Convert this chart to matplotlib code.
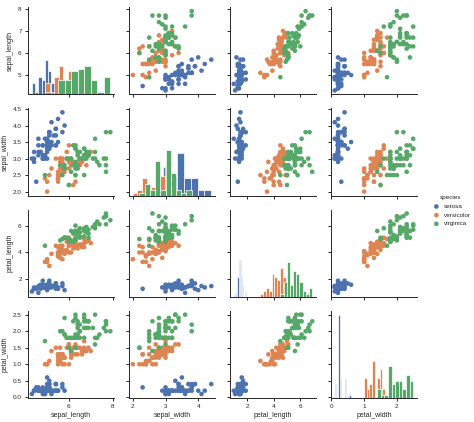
import matplotlib
matplotlib.use("Agg")
import matplotlib.pyplot as plt
from matplotlib.ticker import MultipleLocator
import numpy as np

# iris measurements (50 setosa, 50 versicolor, 50 virginica)
sepal_length = [
    5.1, 4.9, 4.7, 4.6, 5.0, 5.4, 4.6, 5.0, 4.4, 4.9, 5.4, 4.8, 4.8, 4.3, 5.8, 5.7, 5.4, 5.1, 5.7, 5.1, 5.4, 5.1, 4.6, 5.1, 4.8,
    5.0, 5.0, 5.2, 5.2, 4.7, 4.8, 5.4, 5.2, 5.5, 4.9, 5.0, 5.5, 4.9, 4.4, 5.1, 5.0, 4.5, 4.4, 5.0, 5.1, 4.8, 5.1, 4.6, 5.3, 5.0,
    7.0, 6.4, 6.9, 5.5, 6.5, 5.7, 6.3, 4.9, 6.6, 5.2, 5.0, 5.9, 6.0, 6.1, 5.6, 6.7, 5.6, 5.8, 6.2, 5.6, 5.9, 6.1, 6.3, 6.1, 6.4,
    6.6, 6.8, 6.7, 6.0, 5.7, 5.5, 5.5, 5.8, 6.0, 5.4, 6.0, 6.7, 6.3, 5.6, 5.5, 5.5, 6.1, 5.8, 5.0, 5.6, 5.7, 5.7, 6.2, 5.1, 5.7,
    6.3, 5.8, 7.1, 6.3, 6.5, 7.6, 4.9, 7.3, 6.7, 7.2, 6.5, 6.4, 6.8, 5.7, 5.8, 6.4, 6.5, 7.7, 7.7, 6.0, 6.9, 5.6, 7.7, 6.3, 6.7,
    7.2, 6.2, 6.1, 6.4, 7.2, 7.4, 7.9, 6.4, 6.3, 6.1, 7.7, 6.3, 6.4, 6.0, 6.9, 6.7, 6.9, 5.8, 6.8, 6.7, 6.7, 6.3, 6.5, 6.2, 5.9,
]
sepal_width = [
    3.5, 3.0, 3.2, 3.1, 3.6, 3.9, 3.4, 3.4, 2.9, 3.1, 3.7, 3.4, 3.0, 3.0, 4.0, 4.4, 3.9, 3.5, 3.8, 3.8, 3.4, 3.7, 3.6, 3.3, 3.4,
    3.0, 3.4, 3.5, 3.4, 3.2, 3.1, 3.4, 4.1, 4.2, 3.1, 3.2, 3.5, 3.6, 3.0, 3.4, 3.5, 2.3, 3.2, 3.5, 3.8, 3.0, 3.8, 3.2, 3.7, 3.3,
    3.2, 3.2, 3.1, 2.3, 2.8, 2.8, 3.3, 2.4, 2.9, 2.7, 2.0, 3.0, 2.2, 2.9, 2.9, 3.1, 3.0, 2.7, 2.2, 2.5, 3.2, 2.8, 2.5, 2.8, 2.9,
    3.0, 2.8, 3.0, 2.9, 2.6, 2.4, 2.4, 2.7, 2.7, 3.0, 3.4, 3.1, 2.3, 3.0, 2.5, 2.6, 3.0, 2.6, 2.3, 2.7, 3.0, 2.9, 2.9, 2.5, 2.8,
    3.3, 2.7, 3.0, 2.9, 3.0, 3.0, 2.5, 2.9, 2.5, 3.6, 3.2, 2.7, 3.0, 2.5, 2.8, 3.2, 3.0, 3.8, 2.6, 2.2, 3.2, 2.8, 2.8, 2.7, 3.3,
    3.2, 2.8, 3.0, 2.8, 3.0, 2.8, 3.8, 2.8, 2.8, 2.6, 3.0, 3.4, 3.1, 3.0, 3.1, 3.1, 3.1, 2.7, 3.2, 3.3, 3.0, 2.5, 3.0, 3.4, 3.0,
]
petal_length = [
    1.4, 1.4, 1.3, 1.5, 1.4, 1.7, 1.4, 1.5, 1.4, 1.5, 1.5, 1.6, 1.4, 1.1, 1.2, 1.5, 1.3, 1.4, 1.7, 1.5, 1.7, 1.5, 1.0, 1.7, 1.9,
    1.6, 1.6, 1.5, 1.4, 1.6, 1.6, 1.5, 1.5, 1.4, 1.5, 1.2, 1.3, 1.4, 1.3, 1.5, 1.3, 1.3, 1.3, 1.6, 1.9, 1.4, 1.6, 1.4, 1.5, 1.4,
    4.7, 4.5, 4.9, 4.0, 4.6, 4.5, 4.7, 3.3, 4.6, 3.9, 3.5, 4.2, 4.0, 4.7, 3.6, 4.4, 4.5, 4.1, 4.5, 3.9, 4.8, 4.0, 4.9, 4.7, 4.3,
    4.4, 4.8, 5.0, 4.5, 3.5, 3.8, 3.7, 3.9, 5.1, 4.5, 4.5, 4.7, 4.4, 4.1, 4.0, 4.4, 4.6, 4.0, 3.3, 4.2, 4.2, 4.2, 4.3, 3.0, 4.1,
    6.0, 5.1, 5.9, 5.6, 5.8, 6.6, 4.5, 6.3, 5.8, 6.1, 5.1, 5.3, 5.5, 5.0, 5.1, 5.3, 5.5, 6.7, 6.9, 5.0, 5.7, 4.9, 6.7, 4.9, 5.7,
    6.0, 4.8, 4.9, 5.6, 5.8, 6.1, 6.4, 5.6, 5.1, 5.6, 6.1, 5.6, 5.5, 4.8, 5.4, 5.6, 5.1, 5.1, 5.9, 5.7, 5.2, 5.0, 5.2, 5.4, 5.1,
]
petal_width = [
    0.2, 0.2, 0.2, 0.2, 0.2, 0.4, 0.3, 0.2, 0.2, 0.1, 0.2, 0.2, 0.1, 0.1, 0.2, 0.4, 0.4, 0.3, 0.3, 0.3, 0.2, 0.4, 0.2, 0.5, 0.2,
    0.2, 0.4, 0.2, 0.2, 0.2, 0.2, 0.4, 0.1, 0.2, 0.2, 0.2, 0.2, 0.1, 0.2, 0.2, 0.3, 0.3, 0.2, 0.6, 0.4, 0.3, 0.2, 0.2, 0.2, 0.2,
    1.4, 1.5, 1.5, 1.3, 1.5, 1.3, 1.6, 1.0, 1.3, 1.4, 1.0, 1.5, 1.0, 1.4, 1.3, 1.4, 1.5, 1.0, 1.5, 1.1, 1.8, 1.3, 1.5, 1.2, 1.3,
    1.4, 1.4, 1.7, 1.5, 1.0, 1.1, 1.0, 1.2, 1.6, 1.5, 1.6, 1.5, 1.3, 1.3, 1.3, 1.2, 1.4, 1.2, 1.0, 1.3, 1.2, 1.3, 1.3, 1.1, 1.3,
    2.5, 1.9, 2.1, 1.8, 2.2, 2.1, 1.7, 1.8, 1.8, 2.5, 2.0, 1.9, 2.1, 2.0, 2.4, 2.3, 1.8, 2.2, 2.3, 1.5, 2.3, 2.0, 2.0, 1.8, 2.1,
    1.8, 1.8, 1.8, 2.1, 1.6, 1.9, 2.0, 2.2, 1.5, 1.4, 2.3, 2.4, 1.8, 1.8, 2.1, 2.4, 2.3, 1.9, 2.3, 2.5, 2.3, 1.9, 2.0, 2.3, 1.8,
]
species = ["setosa"] * 50 + ["versicolor"] * 50 + ["virginica"] * 50

species_names = ["setosa", "versicolor", "virginica"]
colors = ["#4C72B0", "#DD8452", "#55A868"]
var_names = ["sepal_length", "sepal_width", "petal_length", "petal_width"]

data = {
    "sepal_length": np.array(sepal_length),
    "sepal_width": np.array(sepal_width),
    "petal_length": np.array(petal_length),
    "petal_width": np.array(petal_width),
}
species_arr = np.array(species)

# tick spacing per variable (x, y)
tick_step = {
    "sepal_length": (2, 1),
    "sepal_width": (1, 0.5),
    "petal_length": (2, 2),
    "petal_width": (1, 0.5),
}

plt.rcParams["font.family"] = ["Liberation Sans", "DejaVu Sans"]
text_color = "#262626"

fig, axes = plt.subplots(4, 4, figsize=(4.74, 4.22), dpi=100, sharex="col", sharey="row")
fig.subplots_adjust(left=0.059, right=0.880, bottom=0.057, top=0.983, wspace=0.17, hspace=0.16)

# diagonal: one histogram per species on a hidden twin axis, all twins share y
diag_axes = []
for i, yvar in enumerate(var_names):
    for j, xvar in enumerate(var_names):
        ax = axes[i, j]
        if i == j:
            dax = ax.twinx()
            if diag_axes:
                dax.sharey(diag_axes[0])
            dax.set_axis_off()
            diag_axes.append(dax)
            for name, c in zip(species_names, colors):
                vals = data[xvar][species_arr == name]
                dax.hist(vals, bins=10, color=c, edgecolor="white", linewidth=0.5)
        else:
            for name, c in zip(species_names, colors):
                m = species_arr == name
                ax.scatter(data[xvar][m], data[yvar][m], s=11, color=c, edgecolors="none", label=name)

        for side in ["top", "right"]:
            ax.spines[side].set_visible(False)
        for side in ["left", "bottom"]:
            ax.spines[side].set_linewidth(0.7)
            ax.spines[side].set_color(text_color)
        ax.tick_params(direction="out", length=2.5, width=0.7, labelsize=4.6,
                       colors=text_color, pad=2)
        ax.xaxis.set_major_locator(MultipleLocator(tick_step[xvar][0]))
        ax.yaxis.set_major_locator(MultipleLocator(tick_step[yvar][1]))
        if j == 0:
            ax.set_ylabel(yvar, fontsize=5, color=text_color, labelpad=3)
        if i == 3:
            ax.set_xlabel(xvar, fontsize=5, color=text_color, labelpad=2)

handles, labels = axes[0, 1].get_legend_handles_labels()
leg = fig.legend(handles, labels, title="species", loc="center left",
                 bbox_to_anchor=(0.895, 0.5), frameon=False, fontsize=4.6,
                 title_fontsize=4.6, handletextpad=0.2, labelspacing=0.5)
for t in leg.get_texts():
    t.set_color(text_color)
leg.get_title().set_color(text_color)

fig.savefig("out.png", dpi=100)
